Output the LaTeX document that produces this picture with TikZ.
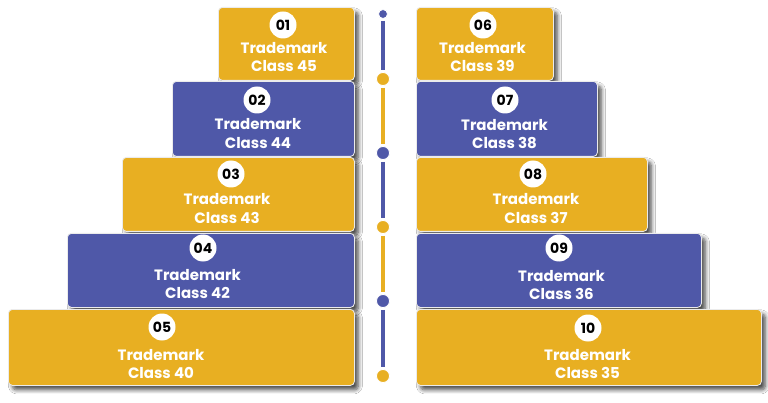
\documentclass[tikz,border=0pt]{standalone}
\usepackage{fontspec}
\setmainfont{Poppins}
\usetikzlibrary{shadows.blur}
\definecolor{gold}{HTML}{E8AF22}
\definecolor{navy}{HTML}{4F58A8}
\begin{document}
\begin{tikzpicture}[x=1pt,y=1pt,
  box/.style={draw=white!92!black, line width=0.8pt, rounded corners=4pt, anchor=north west, inner sep=0pt,
    blur shadow={shadow xshift=4pt, shadow yshift=-4.5pt, shadow blur steps=8, shadow blur radius=4pt, shadow opacity=70}},
  goldbox/.style={box, fill=gold},
  navybox/.style={box, fill=navy},
  num/.style={circle, fill=white, inner sep=0pt, minimum size=27pt, font=\bfseries\fontsize{14}{14}\selectfont, text=black},
  label/.style={align=center, text=white, inner sep=0pt, font=\bfseries\fontsize{15}{18.5}\selectfont},
  gdot/.style={circle, fill=gold, draw=white, line width=0.8pt, minimum size=13pt, inner sep=0pt},
  ndot/.style={circle, fill=navy, draw=white, line width=0.8pt, minimum size=13pt, inner sep=0pt},
  seg/.style={line width=4pt, shorten <=2pt, shorten >=2pt}
]
\useasboundingbox (0,0) rectangle (768,402);
\fill[white] (0,0) rectangle (768,402);

% left column
\node[goldbox, minimum width=136pt, minimum height=73pt] (b1) at (218,395) {};
\node[navybox, minimum width=182pt, minimum height=75pt] (b2) at (172,321) {};
\node[goldbox, minimum width=232pt, minimum height=74pt] (b3) at (122,245) {};
\node[navybox, minimum width=287pt, minimum height=74pt] (b4) at (67,169) {};
\node[goldbox, minimum width=346pt, minimum height=76pt] (b5) at (8,93) {};

% right column
\node[goldbox, minimum width=137pt, minimum height=73pt] (b6) at (416,395) {};
\node[navybox, minimum width=181pt, minimum height=75pt] (b7) at (416,321) {};
\node[goldbox, minimum width=231pt, minimum height=74pt] (b8) at (416,245) {};
\node[navybox, minimum width=285pt, minimum height=74pt] (b9) at (416,169) {};
\node[goldbox, minimum width=345pt, minimum height=76pt] (b10) at (416,93) {};

% numbers
\node[num] (n1) at (283,377) {01};
\node[num] (n2) at (257,302) {02};
\node[num] (n3) at (231,228) {03};
\node[num] (n4) at (203,154) {04};
\node[num] (n5) at (162,75) {05};
\node[num] (n6) at (483,377) {06};
\node[num] (n7) at (505,302) {07};
\node[num] (n8) at (533,228) {08};
\node[num] (n9) at (559,154) {09};
\node[num] (n10) at (588,74) {10};

% labels
\node[label] (t1) at (284,345) {Trademark\\Class 45};
\node[label] (t2) at (258,268.5) {Trademark\\Class 44};
\node[label] (t3) at (227,193.5) {Trademark\\Class 43};
\node[label] (t4) at (197.5,118) {Trademark\\Class 42};
\node[label] (t5) at (161,38) {Trademark\\Class 40};
\node[label] (t6) at (482.5,345) {Trademark\\Class 39};
\node[label] (t7) at (504.5,268) {Trademark\\Class 38};
\node[label] (t8) at (536,193.5) {Trademark\\Class 37};
\node[label] (t9) at (561.5,117) {Trademark\\Class 36};
\node[label] (t10) at (587.5,38) {Trademark\\Class 35};

% centre timeline
\node[ndot, minimum size=9pt] (d0) at (383,388) {};
\node[gdot] (d1) at (383,323) {};
\node[ndot] (d2) at (383,249) {};
\node[gdot] (d3) at (383,175) {};
\node[ndot] (d4) at (383,101) {};
\node[gdot] (d5) at (383,26) {};
\draw[seg, navy] (d0) -- (d1);
\draw[seg, gold] (d1) -- (d2);
\draw[seg, navy] (d2) -- (d3);
\draw[seg, gold] (d3) -- (d4);
\draw[seg, navy] (d4) -- (d5);
\end{tikzpicture}
\end{document}
